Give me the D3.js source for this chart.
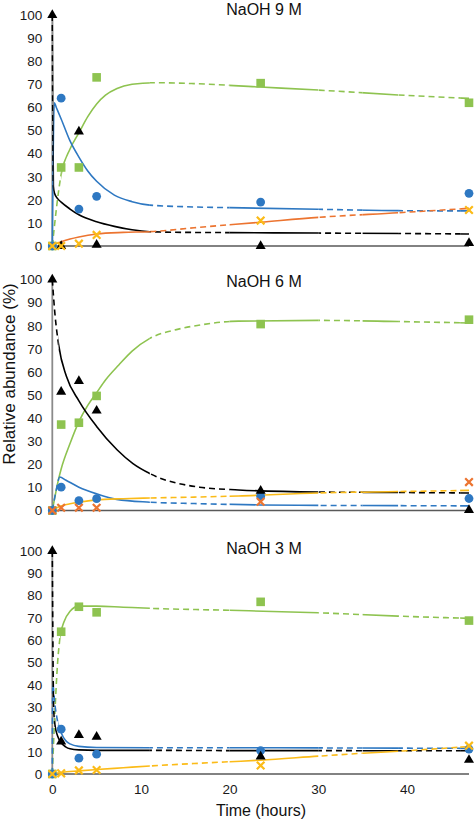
<!DOCTYPE html>
<html>
<head>
<meta charset="utf-8">
<script src="https://cdn.jsdelivr.net/npm/d3@7"></script>
<style>
body { margin: 0; background: #fff; }
svg { display: block; font-family: "Liberation Sans", Arial, Helvetica, sans-serif; }
</style>
</head>
<body>
<div id="chart"></div>
<script>
// sampling times (hours) shared by every panel
var times = [0, 1, 3, 5, 23.5, 47];
var titles = ["NaOH 9 M", "NaOH 6 M", "NaOH 3 M"];
var yTicks = [0, 10, 20, 30, 40, 50, 60, 70, 80, 90, 100];
var xTicks = [0, 10, 20, 30, 40];

// measured points, NaOH 9 M
var square9 = [0, 34, 34, 73, 70.5, 62];
var circle9 = [0, 64, 16, 21.5, 19, 22.8];
var triangle9 = [100, 0, 49.5, 0.5, 0, 1.3];
var cross9 = [0, 0, 1, 4.8, 11, 15.6];

// measured points, NaOH 6 M
var square6 = [0, 37.2, 38, 49.6, 80.7, 82.6];
var circle6 = [0, 10.1, 4.3, 5.1, 6.2, 5.2];
var triangle6 = [100, 51.4, 56, 43.2, 8.5, 0.2];
var cross6 = [0, 1.2, 1.2, 1.2, 3.8, 12.3];

// measured points, NaOH 3 M
var square3 = [0, 63.8, 75, 72.5, 77.2, 68.8];
var circle3 = [0, 20.1, 7.1, 8.9, 10.5, 11.2];
var triangle3 = [100, 14.5, 17.5, 16.7, 7.8, 6.3];
var cross3 = [0, 0.3, 1.6, 1.8, 3.8, 12.7];

// fitted curves, [hours, %]
var fitSquare9 = [[0,0],[1,31],[2,42],[3,49],[4,56],[5,61.5],[6,65.3],[7.3,68.2],[9,70],[11.4,70.7],[16,70.3],[23.5,68.8],[30,67.5],[39,65.4],[47,63.9]];
var fitCircle9 = [[0,0],[0.22,62],[0.5,59.5],[1,55],[2,45.5],[3,38.5],[4,32.5],[5,28],[7,22],[9,19.2],[11,17.7],[15,17],[20,16.6],[30,15.9],[39,15.3],[47,15.2]];
var fitTriangle9 = [[0,100],[0.12,26],[0.25,22.8],[0.6,20.5],[1,19],[2,16],[3,13.5],[5,10.5],[7,8.5],[9,7],[11,6.2],[15,5.9],[20,5.8],[30,5.6],[40,5.4],[47,5.2]];
var fitCross9 = [[0,0],[0.3,0.8],[1,1.8],[2,3],[3,3.9],[5,5.2],[8,5.9],[11,6.2],[16,7.9],[23.5,10.3],[30,12.4],[39,14.4],[47,16.3]];

var fitSquare6 = [[0,0],[0.3,6],[0.7,13.5],[1,18],[2,29],[3,38.5],[4,45.5],[5,51],[6,56.5],[7.5,63],[9,69],[11,74.5],[14,78.3],[17,80.5],[21,82],[30,82.3],[39,81.8],[47,81.2]];
var fitCircle6 = [[0,0],[0.4,8],[0.85,14.5],[1.5,13.2],[3,10.1],[5,7.2],[7.25,4.8],[11,3.6],[16,3],[23.5,2.4],[30,2.2],[39,2.1],[47,2]];
var fitTriangle6 = [[0,100],[0.3,85],[0.7,72],[1.6,58],[3,47.5],[5,36.4],[7.3,26.3],[9.1,20.3],[11,16],[16.6,10.1],[21,8.9],[30,8],[39,7.8],[47,7.6]];
var fitCross6 = [[0,0],[0.5,1.2],[1,2],[2,2.9],[3,3.6],[5,4.6],[8,5.1],[11,5.4],[16,5.8],[21,6.3],[30,7.6],[39,8.2],[47,8.7]];

var fitSquare3 = [[0,0],[0.3,28],[0.6,50],[0.9,62],[1.3,68],[2,73],[3,75.3],[5,75.3],[8,74.8],[11,74.3],[20,73.4],[30,72.3],[39,70.8],[47,69.8]];
var fitCircle3 = [[0,0],[0.05,40],[0.3,31],[0.6,23.5],[1,18.5],[1.5,15],[2,13.5],[3,12.4],[5,11.9],[11,11.8],[20,11.8],[30,11.7],[39,11.6],[47,11.5]];
var fitTriangle3 = [[0,100],[0.15,30],[0.3,22],[0.6,17],[1,14],[1.5,12.2],[2,11.3],[3,10.8],[5,10.6],[11,10.6],[20,10.5],[30,10.5],[39,10.4],[47,10.4]];
var fitCross3 = [[0,0],[1,0.7],[3,1.4],[5,2],[8,2.8],[11,3.6],[16,4.7],[20,5.5],[23.5,6.2],[30,8],[35,9.3],[39,10.2],[47,12.3]];

// time spans where the fitted curves are drawn dashed
var dashedSpans = [[11, 20], [30, 35], [39, 46]];

var blue = "#2e78c2", green = "#8ec350", orange = "#ec7430", yellow = "#fbbb18";

var width = 474, height = 823;
var x = d3.scaleLinear().domain([0, 47]).range([52.3, 469]);

var panels = [
	{title: titles[0], top: 15, bottom: 246, titleY: 15, series: [
		{shape: "square", color: green, line: green, values: square9, fit: fitSquare9, dashTo: 1},
		{shape: "circle", color: blue, line: blue, values: circle9, fit: fitCircle9, dashTo: 0},
		{shape: "triangle", color: "#000", line: "#000", values: triangle9, fit: fitTriangle9, dashTo: 0.12},
		{shape: "cross", color: yellow, line: orange, values: cross9, fit: fitCross9, dashTo: 0}
	]},
	{title: titles[1], top: 279.5, bottom: 510.5, titleY: 287, series: [
		{shape: "square", color: green, line: green, values: square6, fit: fitSquare6, dashTo: 0},
		{shape: "circle", color: blue, line: blue, values: circle6, fit: fitCircle6, dashTo: 0.85},
		{shape: "triangle", color: "#000", line: "#000", values: triangle6, fit: fitTriangle6, dashTo: 0.7},
		{shape: "cross", color: orange, line: yellow, values: cross6, fit: fitCross6, dashTo: 0}
	]},
	{title: titles[2], top: 551, bottom: 774, titleY: 554, series: [
		{shape: "square", color: green, line: green, values: square3, fit: fitSquare3, dashTo: 0.9},
		{shape: "circle", color: blue, line: blue, values: circle3, fit: fitCircle3, dashTo: 0.7},
		{shape: "triangle", color: "#000", line: "#000", values: triangle3, fit: fitTriangle3, dashTo: 0.3},
		{shape: "cross", color: yellow, line: yellow, values: cross3, fit: fitCross3, dashTo: 0}
	]}
];

var svg = d3.select("#chart")
	.append("svg")
	.attr("width", width)
	.attr("height", height);

var defs = svg.append("defs");

// turn the dashed spans into the complementary solid spans
function splitSpans(dashTo) {
	var dashed = (dashTo > 0 ? [[-1, dashTo]] : []).concat(dashedSpans);
	var solid = [];
	var start = -1;
	dashed.forEach(function(d) {
		if (d[0] > start) solid.push([start, d[0]]);
		start = d[1];
	});
	solid.push([start, 48]);
	return {dashed: dashed, solid: solid};
}

function addClip(id, spans, y) {
	var clip = defs.append("clipPath").attr("id", id);
	spans.forEach(function(s) {
		clip.append("rect")
			.attr("x", x(s[0]))
			.attr("width", x(s[1]) - x(s[0]))
			.attr("y", y.range()[1] - 20)
			.attr("height", y.range()[0] - y.range()[1] + 40);
	});
}

function drawMarker(g, shape, color, px, py) {
	if (shape == "circle") {
		g.append("circle").attr("cx", px).attr("cy", py).attr("r", 4.4).attr("fill", color);
	} else if (shape == "square") {
		g.append("rect").attr("x", px - 4.3).attr("y", py - 4.3)
			.attr("width", 8.6).attr("height", 8.6).attr("fill", color);
	} else if (shape == "triangle") {
		g.append("path").attr("d", d3.symbol(d3.symbolTriangle, 44)())
			.attr("transform", "translate(" + px + "," + py + ")").attr("fill", color);
	} else {
		g.append("path").attr("d", "M-3.8,-3.8L3.8,3.8M-3.8,3.8L3.8,-3.8")
			.attr("transform", "translate(" + px + "," + py + ")")
			.attr("stroke", color).attr("stroke-width", 2.2).attr("fill", "none");
	}
}

function drawPanel(p, pi, isLast) {
	var y = d3.scaleLinear().domain([0, 100]).range([p.bottom, p.top]);
	var g = svg.append("g").attr("class", "panel");

	// y tick labels
	g.append("g")
		.attr("transform", "translate(" + x(0) + ",0)")
		.call(d3.axisLeft(y).tickValues(yTicks).tickSize(0).tickPadding(10))
		.call(function(a) { a.select(".domain").remove(); })
		.selectAll("text")
			.attr("font-size", "13.5px")
			.attr("font-family", "Liberation Sans, Arial, sans-serif")
			.attr("fill", "#1a1a1a");

	if (isLast) {
		g.append("g")
			.attr("transform", "translate(0," + p.bottom + ")")
			.call(d3.axisBottom(x).tickValues(xTicks).tickSize(0).tickPadding(10))
			.call(function(a) { a.select(".domain").remove(); })
			.selectAll("text")
				.attr("font-size", "13.5px")
				.attr("font-family", "Liberation Sans, Arial, sans-serif")
				.attr("fill", "#1a1a1a");
	}

	// axis lines
	g.append("line")
		.attr("x1", x(0)).attr("x2", x(47))
		.attr("y1", y(0)).attr("y2", y(0))
		.attr("stroke", "#595959").attr("stroke-width", 1.3);
	g.append("line")
		.attr("x1", x(0)).attr("x2", x(0))
		.attr("y1", y(0)).attr("y2", y(100))
		.attr("stroke", "#8a8a8a").attr("stroke-width", 1.8);

	// title
	g.append("text")
		.attr("x", 264).attr("y", p.titleY)
		.attr("text-anchor", "middle")
		.attr("font-size", "16px")
		.attr("fill", "#111")
		.text(p.title);

	var line = d3.line()
		.x(function(d) { return x(d[0]); })
		.y(function(d) { return y(d[1]); })
		.curve(d3.curveMonotoneX);

	// fitted curves: solid parts and dashed parts through clip paths
	p.series.forEach(function(s, si) {
		var spans = splitSpans(s.dashTo);
		var sid = "clip-s-" + pi + "-" + si, did = "clip-d-" + pi + "-" + si;
		addClip(sid, spans.solid, y);
		addClip(did, spans.dashed, y);
		g.append("path")
			.attr("d", line(s.fit))
			.attr("fill", "none").attr("stroke", s.line).attr("stroke-width", 1.6)
			.attr("clip-path", "url(#" + sid + ")");
		g.append("path")
			.attr("d", line(s.fit))
			.attr("fill", "none").attr("stroke", s.line).attr("stroke-width", 1.6)
			.attr("stroke-dasharray", "6,4")
			.attr("clip-path", "url(#" + did + ")");
	});

	// measured points
	p.series.forEach(function(s) {
		var mg = g.append("g");
		times.forEach(function(t, k) {
			drawMarker(mg, s.shape, s.color, x(t), y(s.values[k]));
		});
	});
}

panels.forEach(function(p, i) {
	drawPanel(p, i, i == panels.length - 1);
});

// axis titles
svg.append("text")
	.attr("transform", "translate(14.5,374) rotate(-90)")
	.attr("text-anchor", "middle")
	.attr("font-size", "17px")
	.attr("fill", "#111")
	.text("Relative abundance (%)");

svg.append("text")
	.attr("x", 261).attr("y", 816)
	.attr("text-anchor", "middle")
	.attr("font-size", "16px")
	.attr("fill", "#111")
	.text("Time (hours)");
</script>
</body>
</html>
